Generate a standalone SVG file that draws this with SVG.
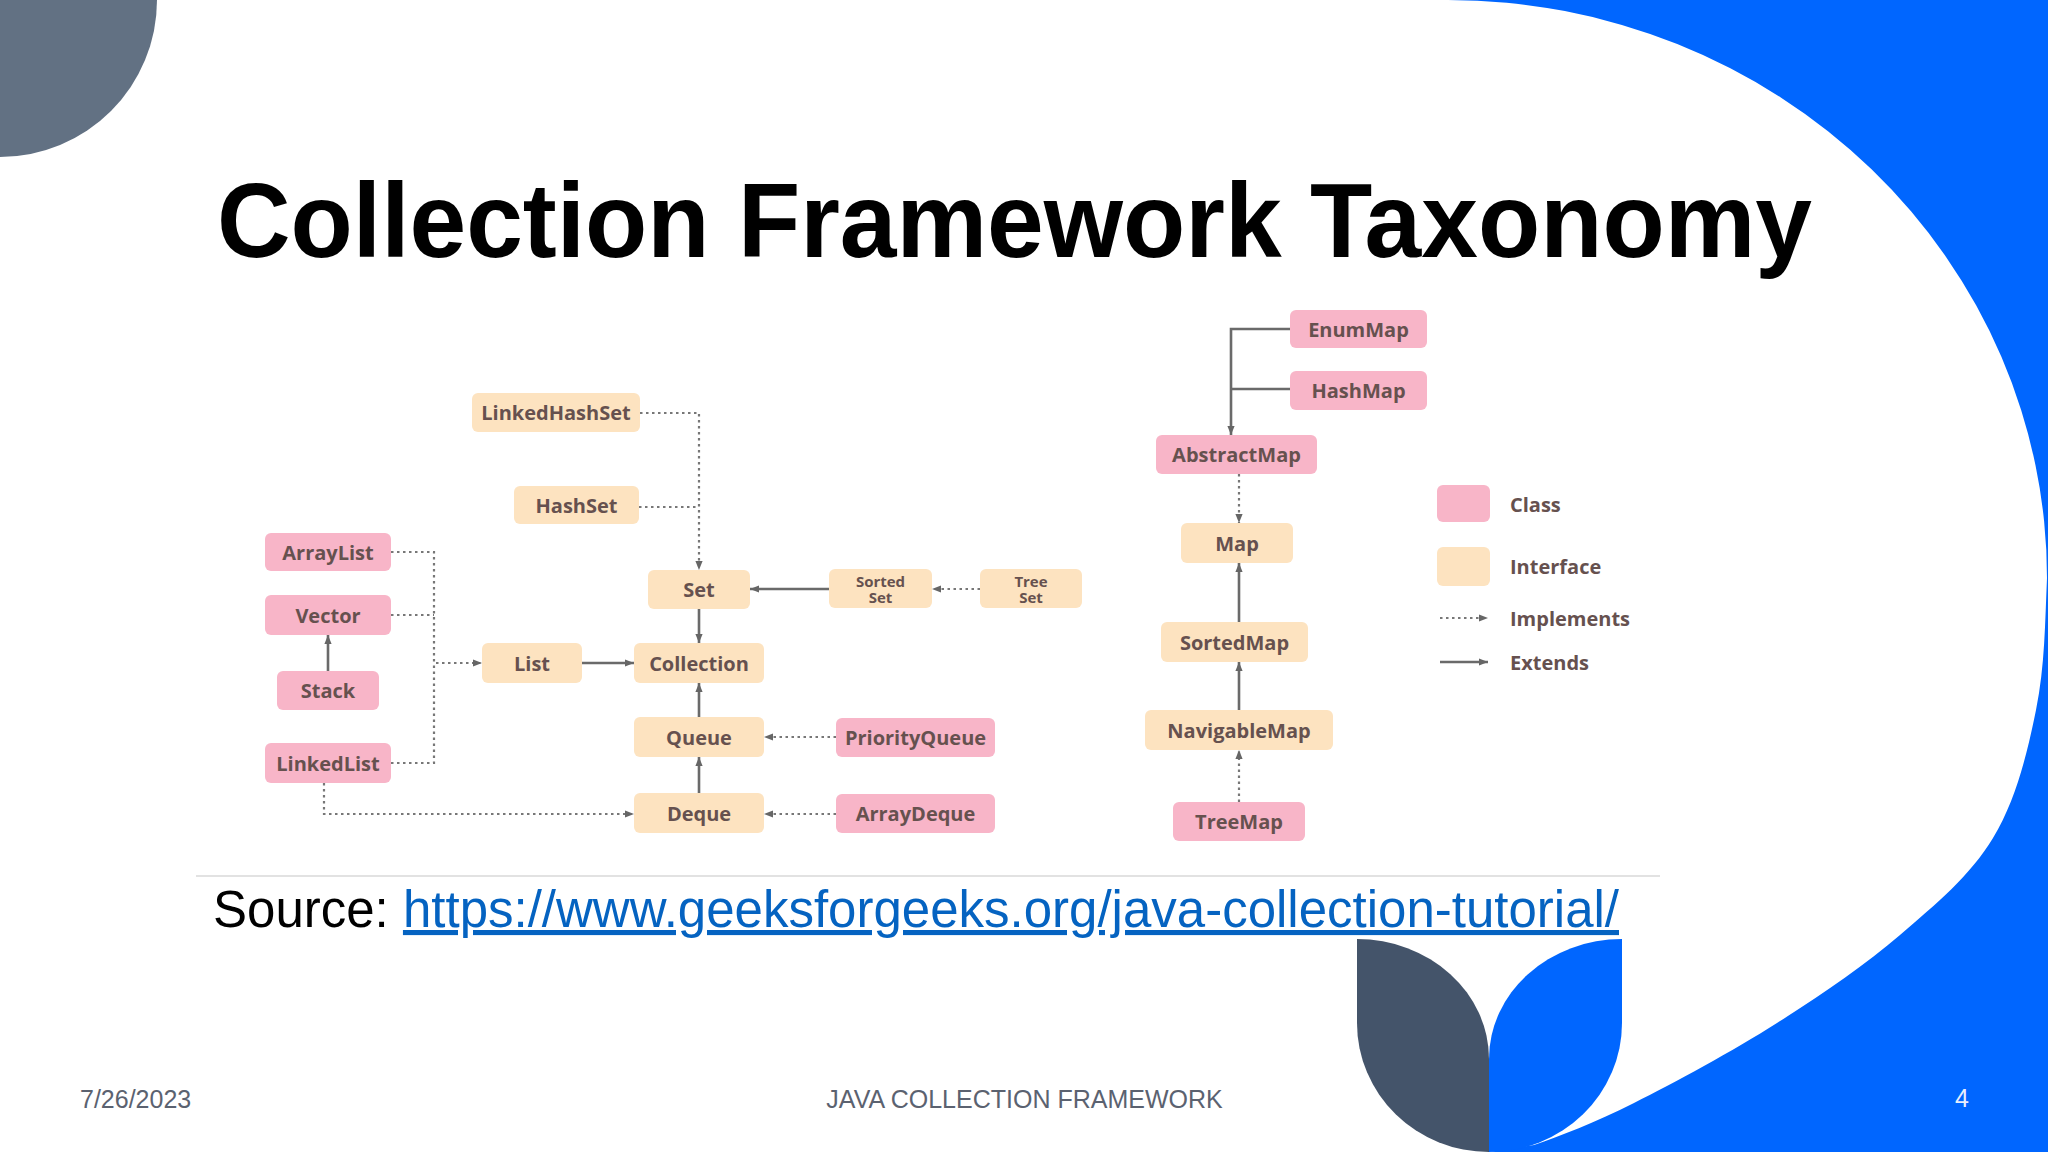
<svg xmlns="http://www.w3.org/2000/svg" width="2048" height="1152" viewBox="0 0 2048 1152">
<defs>
<style>
.cls{fill:#f8b5c8}
.itf{fill:#fde3c0}
.lbl{font-family:"Open Sans","DejaVu Sans",sans-serif;font-weight:700;font-size:20px;fill:#66514f;text-anchor:middle;dominant-baseline:central}
.sm{font-size:15px}
.leg{font-family:"Open Sans","DejaVu Sans",sans-serif;font-weight:700;font-size:20px;fill:#66514f;dominant-baseline:central}
.impl{stroke:#777;stroke-width:2.2;stroke-dasharray:2.5 3.5;fill:none}
.ext{stroke:#6a6a6a;stroke-width:2.6;fill:none}
.arr{marker-end:url(#ah)}
.foot{font-family:"Liberation Sans",Arial,sans-serif;font-size:25px;fill:#5b6270}
</style>
<marker id="ah" viewBox="0 0 10 10" refX="10" refY="5" markerWidth="9" markerHeight="9" markerUnits="userSpaceOnUse" orient="auto">
<path d="M0,1 L10,5 L0,9 z" fill="#666"/>
</marker>
</defs>
<rect x="0" y="0" width="2048" height="1152" fill="#ffffff"/>
<g id="background">
<path d="M0,0 H157 A157,157 0 0 1 0,157 Z" fill="#627183"/>
<path d="M1448,0 A599,578 0 0 1 2047,578 C2045,622 2045,666 2036,710 C2027,754 2016,800 1993,838 C1970,876 1936,904 1900,935 C1864,966 1821,995 1777,1023 C1733,1051 1674,1083 1634,1103 C1594,1123 1560,1136 1534,1145 L1489,1152 L2048,1152 L2048,0 Z" fill="#0066ff"/>
<path d="M1357,939 A132,120 0 0 1 1489,1059 L1489,1152 A132,129 0 0 1 1357,1023 Z" fill="#44546a"/>
<path d="M1622,939 L1622,1023 A133,129 0 0 1 1489,1152 L1489,1059 A133,120 0 0 1 1622,939 Z" fill="#0066ff"/>
</g>
<text id="title" x="217" y="257" font-family="'Liberation Sans',Arial,sans-serif" font-weight="700" font-size="105" fill="#000" textLength="1595" lengthAdjust="spacingAndGlyphs">Collection Framework Taxonomy</text>
<g id="connectors">
<path class="impl arr" d="M640,413 H699 V570"/>
<path class="impl" d="M639,507 H699"/>
<path class="impl arr" d="M391,552 H434 V663 H482"/>
<path class="impl" d="M391,615 H434"/>
<path class="impl" d="M391,763 H434 V663"/>
<path class="ext arr" d="M328,671 V635"/>
<path class="impl arr" d="M324,783 V814 H634"/>
<path class="ext arr" d="M582,663 H634"/>
<path class="ext arr" d="M699,609 V643"/>
<path class="ext arr" d="M699,717 V683"/>
<path class="ext arr" d="M699,793 V757"/>
<path class="ext arr" d="M829,589 H750"/>
<path class="impl arr" d="M980,589 H932"/>
<path class="impl arr" d="M836,737 H764"/>
<path class="impl arr" d="M836,814 H764"/>
<path class="ext arr" d="M1290,329 H1231 V435"/>
<path class="ext" d="M1290,389 H1231"/>
<path class="impl arr" d="M1239,474 V523"/>
<path class="ext arr" d="M1239,622 V563"/>
<path class="ext arr" d="M1239,710 V662"/>
<path class="impl arr" d="M1239,802 V750"/>
</g>
<g id="LinkedHashSet"><rect class="itf" x="472" y="393" width="168" height="39" rx="6"/><text class="lbl" x="556" y="412.5">LinkedHashSet</text></g>
<g id="HashSet"><rect class="itf" x="514" y="486" width="125" height="38" rx="6"/><text class="lbl" x="576.5" y="505">HashSet</text></g>
<g id="ArrayList"><rect class="cls" x="265" y="533" width="126" height="38" rx="6"/><text class="lbl" x="328" y="552">ArrayList</text></g>
<g id="Vector"><rect class="cls" x="265" y="595" width="126" height="40" rx="6"/><text class="lbl" x="328" y="615">Vector</text></g>
<g id="Stack"><rect class="cls" x="277" y="671" width="102" height="39" rx="6"/><text class="lbl" x="328" y="690.5">Stack</text></g>
<g id="LinkedList"><rect class="cls" x="265" y="743" width="126" height="40" rx="6"/><text class="lbl" x="328" y="763">LinkedList</text></g>
<g id="List"><rect class="itf" x="482" y="643" width="100" height="40" rx="6"/><text class="lbl" x="532" y="663">List</text></g>
<g id="Set"><rect class="itf" x="648" y="570" width="102" height="39" rx="6"/><text class="lbl" x="699" y="589.5">Set</text></g>
<g id="Collection"><rect class="itf" x="634" y="643" width="130" height="40" rx="6"/><text class="lbl" x="699" y="663">Collection</text></g>
<g id="Queue"><rect class="itf" x="634" y="717" width="130" height="40" rx="6"/><text class="lbl" x="699" y="737">Queue</text></g>
<g id="Deque"><rect class="itf" x="634" y="793" width="130" height="40" rx="6"/><text class="lbl" x="699" y="813">Deque</text></g>
<g id="SortedSet"><rect class="itf" x="829" y="569" width="103" height="39" rx="6"/><text class="lbl sm" x="880.5" y="581">Sorted</text><text class="lbl sm" x="880.5" y="597">Set</text></g>
<g id="TreeSet"><rect class="itf" x="980" y="569" width="102" height="39" rx="6"/><text class="lbl sm" x="1031" y="581">Tree</text><text class="lbl sm" x="1031" y="597">Set</text></g>
<g id="PriorityQueue"><rect class="cls" x="836" y="718" width="159" height="39" rx="6"/><text class="lbl" x="915.5" y="737.5">PriorityQueue</text></g>
<g id="ArrayDeque"><rect class="cls" x="836" y="794" width="159" height="39" rx="6"/><text class="lbl" x="915.5" y="813.5">ArrayDeque</text></g>
<g id="EnumMap"><rect class="cls" x="1290" y="310" width="137" height="38" rx="6"/><text class="lbl" x="1358.5" y="329">EnumMap</text></g>
<g id="HashMap"><rect class="cls" x="1290" y="371" width="137" height="39" rx="6"/><text class="lbl" x="1358.5" y="390.5">HashMap</text></g>
<g id="AbstractMap"><rect class="cls" x="1156" y="435" width="161" height="39" rx="6"/><text class="lbl" x="1236.5" y="454.5">AbstractMap</text></g>
<g id="Map"><rect class="itf" x="1181" y="523" width="112" height="40" rx="6"/><text class="lbl" x="1237" y="543">Map</text></g>
<g id="SortedMap"><rect class="itf" x="1161" y="622" width="147" height="40" rx="6"/><text class="lbl" x="1234.5" y="642">SortedMap</text></g>
<g id="NavigableMap"><rect class="itf" x="1145" y="710" width="188" height="40" rx="6"/><text class="lbl" x="1239" y="730">NavigableMap</text></g>
<g id="TreeMap"><rect class="cls" x="1173" y="802" width="132" height="39" rx="6"/><text class="lbl" x="1239" y="821.5">TreeMap</text></g>
<g id="legend">
<rect class="cls" x="1437" y="485" width="53" height="37" rx="6"/>
<text class="leg" x="1510" y="504">Class</text>
<rect class="itf" x="1437" y="547" width="53" height="39" rx="6"/>
<text class="leg" x="1510" y="566">Interface</text>
<path class="impl arr" d="M1440,618 H1488"/>
<text class="leg" x="1510" y="618">Implements</text>
<path class="ext arr" d="M1440,662 H1488"/>
<text class="leg" x="1510" y="662">Extends</text>
</g>
<line x1="196" y1="876" x2="1660" y2="876" stroke="#e2e2e2" stroke-width="2"/>
<text id="source" x="213" y="927" font-family="'Liberation Sans',Arial,sans-serif" font-size="51" fill="#000">Source: <tspan fill="#0563c1" text-decoration="underline">https://www.geeksforgeeks.org/java-collection-tutorial/</tspan></text>
<g id="footer">
<text class="foot" x="80" y="1108">7/26/2023</text>
<text class="foot" x="1024.5" y="1108" text-anchor="middle">JAVA COLLECTION FRAMEWORK</text>
<text class="foot" x="1955" y="1107" style="fill:#e8eefc">4</text>
</g>
</svg>
